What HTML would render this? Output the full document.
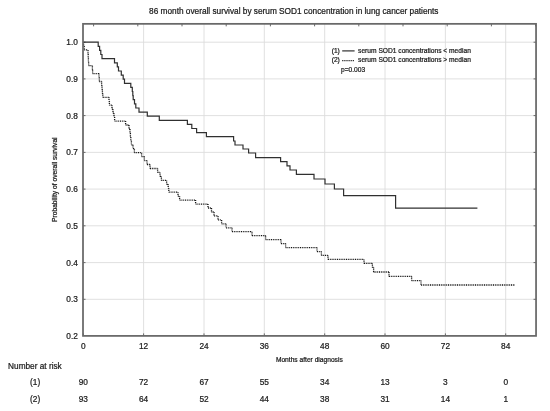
<!DOCTYPE html>
<html lang="en">
<head>
<meta charset="utf-8">
<title>86 month overall survival by serum SOD1 concentration in lung cancer patients</title>
<style>
html,body{margin:0;padding:0;background:#fff;}
body{width:550px;height:411px;overflow:hidden;font-family:"Liberation Sans",sans-serif;}
svg{display:block;}
</style>
</head>
<body>
<svg width="550" height="411" viewBox="0 0 550 411">
<rect x="0" y="0" width="550" height="411" fill="#fff"/>
<path d="M143.6 23.85V335.9 M204.0 23.85V335.9 M264.3 23.85V335.9 M324.7 23.85V335.9 M385.0 23.85V335.9 M445.4 23.85V335.9 M505.7 23.85V335.9 M83.0 299.3H536.05 M83.0 262.6H536.05 M83.0 225.8H536.05 M83.0 189.1H536.05 M83.0 152.4H536.05 M83.0 115.6H536.05 M83.0 78.9H536.05 M83.0 42.2H536.05" stroke="#dddddd" stroke-width="0.9" fill="none"/>
<path d="M83.3 335.9v-2.5 M143.6 335.9v-2.5 M204.0 335.9v-2.5 M264.3 335.9v-2.5 M324.7 335.9v-2.5 M385.0 335.9v-2.5 M445.4 335.9v-2.5 M505.7 335.9v-2.5 M83.0 299.3h2.5 M536.05 299.3h-2.5 M83.0 262.6h2.5 M536.05 262.6h-2.5 M83.0 225.8h2.5 M536.05 225.8h-2.5 M83.0 189.1h2.5 M536.05 189.1h-2.5 M83.0 152.4h2.5 M536.05 152.4h-2.5 M83.0 115.6h2.5 M536.05 115.6h-2.5 M83.0 78.9h2.5 M536.05 78.9h-2.5 M83.0 42.2h2.5 M536.05 42.2h-2.5 M535.6 23.85v2.5 M491.4 23.85v2.5 M447.2 23.85v2.5 M403.0 23.85v2.5 M358.8 23.85v2.5 M314.6 23.85v2.5 M270.4 23.85v2.5 M226.2 23.85v2.5 M182.0 23.85v2.5 M137.8 23.85v2.5 M93.6 23.85v2.5" stroke="#686868" stroke-width="1" fill="none"/>
<path d="M83.3 42L83.6 42 M83.6 42L83.6 46 M83.6 46L84.2 46 M84.2 46L84.2 49.9 M84.2 49.9L88 49.9 M88 49.9L88 53.9 M88 53.9L88.2 53.9 M88.2 53.9L88.2 57.8 M88.2 57.8L88.4 57.8 M88.4 57.8L88.4 61.8 M88.4 61.8L88.6 61.8 M88.6 61.8L88.6 65.7 M88.6 65.7L92.4 65.7 M92.4 65.7L92.4 69.7 M92.4 69.7L92.6 69.7 M92.6 69.7L92.6 73.6 M92.6 73.6L99 73.6 M99 73.6L99 77.6 M99 77.6L99.3 77.6 M99.3 77.6L99.3 81.5 M99.3 81.5L101.6 81.5 M101.6 81.5L101.6 85.5 M101.6 85.5L102 85.5 M102 85.5L102 89.4 M102 89.4L102.4 89.4 M102.4 89.4L102.4 93.4 M102.4 93.4L102.8 93.4 M102.8 93.4L102.8 97.3 M102.8 97.3L109 97.3 M109 97.3L109 101.3 M109 101.3L109.4 101.3 M109.4 101.3L109.4 105.2 M109.4 105.2L112 105.2 M112 105.2L112 109.2 M112 109.2L113 109.2 M113 109.2L113 113.2 M113 113.2L114 113.2 M114 113.2L114 117.1 M114 117.1L114.6 117.1 M114.6 117.1L114.6 121.1 M114.6 121.1L125.6 121.1 M125.6 121.1L125.6 125 M125.6 125L129 125 M129 125L129 129 M129 129L130 129 M130 129L130 132.9 M130 132.9L130.4 132.9 M130.4 132.9L130.4 136.9 M130.4 136.9L130.8 136.9 M130.8 136.9L130.8 140.8 M130.8 140.8L131.4 140.8 M131.4 140.8L131.4 144.8 M131.4 144.8L133 144.8 M133 144.8L133 148.7 M133 148.7L134.4 148.7 M134.4 148.7L134.4 152.7 M134.4 152.7L141.6 152.7 M141.6 152.7L141.6 156.6 M141.6 156.6L144.4 156.6 M144.4 156.6L144.4 160.6 M144.4 160.6L147 160.6 M147 160.6L147 164.5 M147 164.5L150 164.5 M150 164.5L150 168.5 M150 168.5L157.6 168.5 M157.6 168.5L157.6 172.4 M157.6 172.4L160 172.4 M160 172.4L160 176.4 M160 176.4L161.4 176.4 M161.4 176.4L161.4 180.4 M161.4 180.4L166.6 180.4 M166.6 180.4L166.6 184.3 M166.6 184.3L168.2 184.3 M168.2 184.3L168.2 188.3 M168.2 188.3L168.8 188.3 M168.8 188.3L168.8 192.2 M168.8 192.2L178 192.2 M178 192.2L178 196.2 M178 196.2L179.6 196.2 M179.6 196.2L179.6 200.1 M179.6 200.1L195.6 200.1 M195.6 200.1L195.6 204.1 M195.6 204.1L208 204.1 M208 204.1L208 208 M208 208L211.5 208 M211.5 208L211.5 212 M211.5 212L214 212 M214 212L214 215.9 M214 215.9L218 215.9 M218 215.9L218 219.9 M218 219.9L221.6 219.9 M221.6 219.9L221.6 223.8 M221.6 223.8L226 223.8 M226 223.8L226 227.8 M226 227.8L232 227.8 M232 227.8L232 231.7 M232 231.7L252 231.7 M252 231.7L252 235.7 M252 235.7L265.6 235.7 M265.6 235.7L265.6 239.6 M265.6 239.6L281 239.6 M281 239.6L281 243.6 M281 243.6L285.6 243.6 M285.6 243.6L285.6 247.6 M285.6 247.6L317 247.6 M317 247.6L317 251.6 M317 251.6L321.4 251.6 M321.4 251.6L321.4 255.4 M321.4 255.4L328 255.4 M328 255.4L328 259.4 M328 259.4L364 259.4 M364 259.4L364 263.4 M364 263.4L372.4 263.4 M372.4 263.4L372.4 267.4 M372.4 267.4L373.6 267.4 M373.6 267.4L373.6 272 M373.6 272L389 272 M389 272L389 276.4 M389 276.4L411.6 276.4 M411.6 276.4L411.6 280.6 M411.6 280.6L421 280.6 M421 280.6L421 285 M421 285L515 285" stroke="#141414" stroke-width="1.3" stroke-dasharray="1 0.8" fill="none"/>
<path d="M83.3 42.2 L98.2 42.2 L98.2 46.3 L99.6 46.3 L99.6 50.4 L100.8 50.4 L100.8 54.5 L102 54.5 L102 58.6 L114.5 58.6 L114.5 62.8 L117.3 62.8 L117.3 66.9 L118.5 66.9 L118.5 71 L121.3 71 L121.3 75.1 L123.2 75.1 L123.2 79.2 L124.5 79.2 L124.5 83.3 L130.8 83.3 L130.8 87.4 L132.3 87.4 L132.3 91.5 L132.8 91.5 L132.8 95.6 L133.2 95.6 L133.2 99.7 L134.5 99.7 L134.5 103.9 L135.8 103.9 L135.8 108 L139 108 L139 112.1 L147.3 112.1 L147.3 116.2 L159.3 116.2 L159.3 120.3 L187.4 120.3 L187.4 124.4 L191.8 124.4 L191.8 128.5 L196.6 128.5 L196.6 132.6 L206.4 132.6 L206.4 136.7 L233.6 136.7 L233.6 141 L235 141 L235 145 L243 145 L243 149 L248.6 149 L248.6 153 L255.6 153 L255.6 157.6 L280.6 157.6 L280.6 161.6 L287 161.6 L287 165.8 L290 165.8 L290 170 L296.4 170 L296.4 174.4 L314 174.4 L314 179 L325 179 L325 184 L334.4 184 L334.4 189 L343.6 189 L343.6 195.6 L395.6 195.6 L395.6 208.2 L477.4 208.2" stroke="#303030" stroke-width="1.2" fill="none" stroke-linejoin="miter"/>
<rect x="83.0" y="23.85" width="453.04999999999995" height="312.04999999999995" fill="none" stroke="#686868" stroke-width="1.75"/>
<g font-family="'Liberation Sans', sans-serif" fill="#1a1a1a" stroke="#1a1a1a" stroke-width="0.22"><text x="293.8" y="14.2" font-size="8.28" text-anchor="middle" >86 month overall survival by serum SOD1 concentration in lung cancer patients</text>
<text x="77.9" y="339.0" font-size="8.3" text-anchor="end" >0.2</text>
<text x="77.9" y="302.3" font-size="8.3" text-anchor="end" >0.3</text>
<text x="77.9" y="265.6" font-size="8.3" text-anchor="end" >0.4</text>
<text x="77.9" y="228.8" font-size="8.3" text-anchor="end" >0.5</text>
<text x="77.9" y="192.1" font-size="8.3" text-anchor="end" >0.6</text>
<text x="77.9" y="155.4" font-size="8.3" text-anchor="end" >0.7</text>
<text x="77.9" y="118.6" font-size="8.3" text-anchor="end" >0.8</text>
<text x="77.9" y="81.9" font-size="8.3" text-anchor="end" >0.9</text>
<text x="77.9" y="45.2" font-size="8.3" text-anchor="end" >1.0</text>
<text x="83.3" y="348.6" font-size="8.3" text-anchor="middle" >0</text>
<text x="143.6" y="348.6" font-size="8.3" text-anchor="middle" >12</text>
<text x="204.0" y="348.6" font-size="8.3" text-anchor="middle" >24</text>
<text x="264.3" y="348.6" font-size="8.3" text-anchor="middle" >36</text>
<text x="324.7" y="348.6" font-size="8.3" text-anchor="middle" >48</text>
<text x="385.0" y="348.6" font-size="8.3" text-anchor="middle" >60</text>
<text x="445.4" y="348.6" font-size="8.3" text-anchor="middle" >72</text>
<text x="505.7" y="348.6" font-size="8.3" text-anchor="middle" >84</text>
<text x="309.3" y="362" font-size="6.65" text-anchor="middle" >Months after diagnosis</text>
<text transform="translate(57.3 179.7) rotate(-90)" font-size="6.68" text-anchor="middle">Probability of overall survival</text>
<text x="8.1" y="368.8" font-size="8.25" text-anchor="start" >Number at risk</text>
<text x="35.1" y="384.9" font-size="8.3" text-anchor="middle" >(1)</text>
<text x="35.1" y="401.8" font-size="8.3" text-anchor="middle" >(2)</text>
<text x="83.3" y="384.9" font-size="8.3" text-anchor="middle" >90</text>
<text x="83.3" y="401.8" font-size="8.3" text-anchor="middle" >93</text>
<text x="143.6" y="384.9" font-size="8.3" text-anchor="middle" >72</text>
<text x="143.6" y="401.8" font-size="8.3" text-anchor="middle" >64</text>
<text x="204.0" y="384.9" font-size="8.3" text-anchor="middle" >67</text>
<text x="204.0" y="401.8" font-size="8.3" text-anchor="middle" >52</text>
<text x="264.3" y="384.9" font-size="8.3" text-anchor="middle" >55</text>
<text x="264.3" y="401.8" font-size="8.3" text-anchor="middle" >44</text>
<text x="324.7" y="384.9" font-size="8.3" text-anchor="middle" >34</text>
<text x="324.7" y="401.8" font-size="8.3" text-anchor="middle" >38</text>
<text x="385.0" y="384.9" font-size="8.3" text-anchor="middle" >13</text>
<text x="385.0" y="401.8" font-size="8.3" text-anchor="middle" >31</text>
<text x="445.4" y="384.9" font-size="8.3" text-anchor="middle" >3</text>
<text x="445.4" y="401.8" font-size="8.3" text-anchor="middle" >14</text>
<text x="505.7" y="384.9" font-size="8.3" text-anchor="middle" >0</text>
<text x="505.7" y="401.8" font-size="8.3" text-anchor="middle" >1</text>
<text x="331.7" y="52.6" font-size="6.65" text-anchor="start" >(1)</text>
<text x="331.7" y="62.4" font-size="6.65" text-anchor="start" >(2)</text>
<text x="358.1" y="52.6" font-size="6.65" text-anchor="start" >serum SOD1 concentrations &lt; median</text>
<text x="358.1" y="62.4" font-size="6.65" text-anchor="start" >serum SOD1 concentrations &gt; median</text>
<text x="341" y="72.3" font-size="6.65" text-anchor="start" >p=0.003</text></g>
<path d="M342.2 50.9H354.6" stroke="#303030" stroke-width="1.2" fill="none"/>
<path d="M342.2 60.7H354.6" stroke="#1c1c1c" stroke-width="1.2" stroke-dasharray="1.2 0.9" fill="none"/>
</svg>
</body>
</html>
